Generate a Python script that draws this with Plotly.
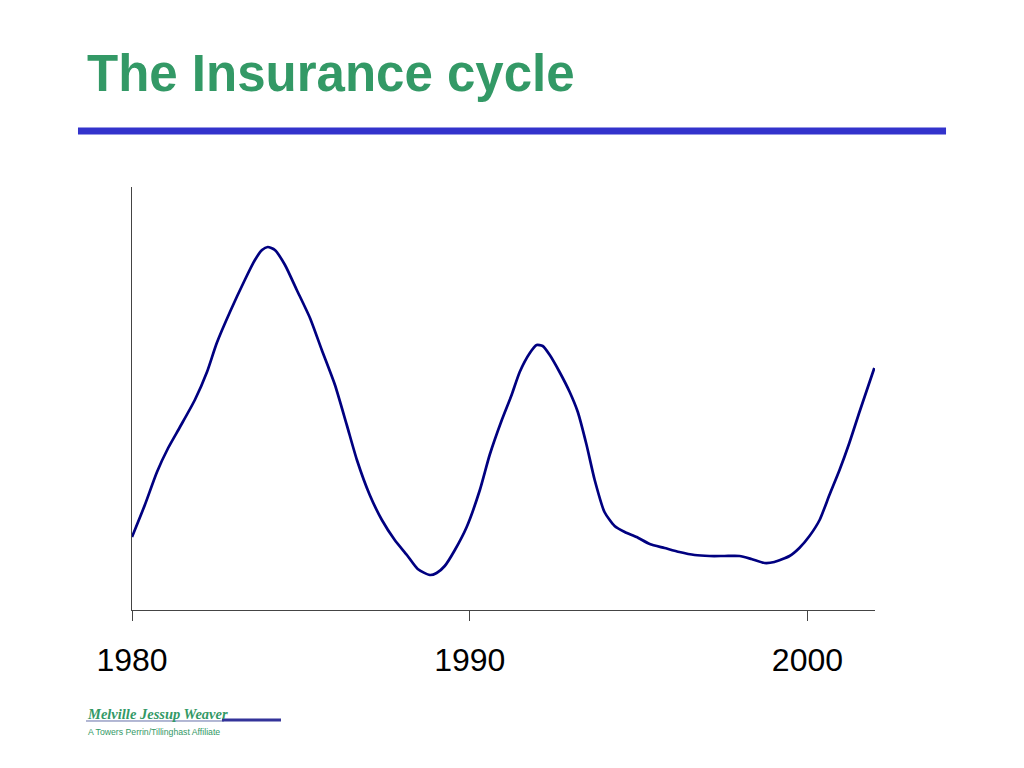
import plotly.graph_objects as go

# insurance cycle index (arbitrary units)
years = [1980.00, 1980.38, 1980.74, 1981.07, 1981.42, 1981.86, 1982.22, 1982.51,
         1982.90, 1983.34, 1983.64, 1983.85, 1984.02, 1984.23, 1984.53, 1984.88,
         1985.27, 1985.62, 1986.01, 1986.36, 1986.66, 1987.04, 1987.40, 1987.78,
         1988.14, 1988.46, 1988.82, 1989.02, 1989.26, 1989.56, 1989.91, 1990.30,
         1990.59, 1990.95, 1991.24, 1991.48, 1991.78, 1991.98, 1992.16, 1992.37,
         1992.66, 1992.96, 1993.20, 1993.46, 1993.70, 1993.99, 1994.29, 1994.59,
         1994.94, 1995.33, 1995.77, 1996.21, 1996.66, 1997.10, 1997.54, 1997.99,
         1998.34, 1998.73, 1999.02, 1999.47, 1999.76, 2000.06, 2000.36, 2000.65,
         2000.95, 2001.24, 2001.54, 2001.98]
cycle = [73, 105, 138, 162, 183, 210, 238, 267,
         298, 330, 350, 360, 363, 360, 345, 320,
         292, 260, 225, 185, 150, 115, 90, 70,
         55, 41, 35, 37, 44, 60, 83, 120,
         155, 190, 215, 238, 257, 265, 264, 255,
         238, 218, 198, 165, 130, 98, 84, 78,
         73, 66, 62, 58, 55, 54, 54, 54,
         51, 47, 48, 54, 62, 74, 90, 115,
         140, 167, 198, 242]
tick_years = [1980, 1990, 2000]
tick_text = ["1980", "1990", "2000"]

fig = go.Figure()
fig.add_trace(go.Scatter(x=years, y=cycle, mode="lines",
                         line=dict(color="#000080", width=2.7, shape="spline", smoothing=0.6),
                         showlegend=False, hoverinfo="skip"))

fig.update_xaxes(range=[1980, 2002], showgrid=False, zeroline=False,
                 showline=True, linecolor="#444444", linewidth=1,
                 ticks="outside", ticklen=10, tickcolor="#444444",
                 tickvals=tick_years, ticktext=tick_text, ticklabelstandoff=12,
                 tickfont=dict(family="Liberation Sans, Arial", size=32, color="black"))
fig.update_yaxes(range=[0, 423], showgrid=False, zeroline=False,
                 showline=True, linecolor="#444444", linewidth=1,
                 showticklabels=False, ticks="")

# title and rule
fig.add_annotation(x=-0.0632, y=1.2695, xref="paper", yref="paper",
                   text="<b>The Insurance cycle</b>", showarrow=False,
                   xanchor="left", yanchor="middle",
                   font=dict(family="Liberation Sans, Arial", size=51, color="#339966"))
fig.add_shape(type="line", xref="paper", yref="paper",
              x0=-0.0727, x1=1.0956, y0=1.1324, y1=1.1324,
              line=dict(color="#3333CC", width=7))

# footer
fig.add_annotation(x=-0.0632, y=-0.2459, xref="paper", yref="paper",
                   text="<b><i>Melville Jessup Weaver</i></b>", showarrow=False,
                   xanchor="left", yanchor="middle",
                   font=dict(family="Liberation Serif, Times New Roman", size=14.5, color="#339966"))
fig.add_shape(type="line", xref="paper", yref="paper",
              x0=-0.0619, x1=0.1238, y0=-0.2624, y1=-0.2624,
              line=dict(color="#6670a8", width=1))
fig.add_shape(type="line", xref="paper", yref="paper",
              x0=0.1211, x1=0.2005, y0=-0.2600, y1=-0.2600,
              line=dict(color="#333399", width=3))
fig.add_annotation(x=-0.0618, y=-0.2884, xref="paper", yref="paper",
                   text="A Towers Perrin/Tillinghast Affiliate", showarrow=False,
                   xanchor="left", yanchor="middle",
                   font=dict(family="Liberation Sans, Arial", size=8.7, color="#339966"))

fig.update_layout(width=1024, height=768, plot_bgcolor="white", paper_bgcolor="white",
                  margin=dict(l=124, r=157, t=179, b=166))

fig.write_html("out.html")
